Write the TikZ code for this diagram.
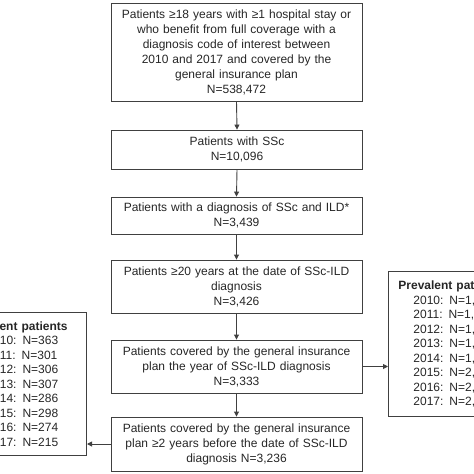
\documentclass[tikz,border=0pt]{standalone}
\usepackage{fontspec}
\setmainfont{Liberation Sans}
\usetikzlibrary{arrows.meta,positioning}
\definecolor{flowLine}{HTML}{404040}
\definecolor{flowText}{HTML}{262626}

\begin{document}
\begin{tikzpicture}[x=1pt,y=-1pt,
    font=\fontsize{12}{15}\selectfont,text=flowText,
    stepbox/.style={draw=flowLine,line width=0.9pt,minimum width=251pt,
      text width=245pt,align=center,inner sep=3pt},
    sidebox/.style={draw=flowLine,line width=0.9pt,align=left,
      font=\fontsize{12}{14.5}\selectfont,inner xsep=10pt,inner ysep=0pt},
    flow/.style={draw=flowLine,line width=0.9pt,
      -{Triangle[length=5pt,width=5pt]}}]
  \useasboundingbox (0,0) rectangle (474,474);
  \clip (0,0) rectangle (474,474);

  % main selection steps
  \node[stepbox,minimum height=98pt] (all) at (236.5,52) {
    Patients ≥18 years with ≥1 hospital stay or\\
    who benefit from full coverage with a\\
    diagnosis code of interest between\\
    2010 and 2017 and covered by the\\
    general insurance plan\\
    N=538,472};
  \node[stepbox,minimum height=39pt] (ssc) at (237,149.5) {
    Patients with SSc\\ N=10,096};
  \node[stepbox,minimum height=37pt] (ild) at (236.5,215.5) {
    Patients with a diagnosis of SSc and ILD*\\ N=3,439};
  \node[stepbox,minimum height=53pt] (age) at (236.5,286.5) {
    Patients ≥20 years at the date of SSc-ILD\\ diagnosis\\ N=3,426};
  \node[stepbox,minimum height=53pt] (plan) at (236.5,366.5) {
    Patients covered by the general insurance\\
    plan the year of SSc-ILD diagnosis\\ N=3,333};
  \node[stepbox,minimum height=54pt] (plantwo) at (236.5,444) {
    Patients covered by the general insurance\\
    plan ≥2 years before the date of SSc-ILD\\ diagnosis N=3,236};

  % side boxes
  \node[sidebox,anchor=north west,text width=130pt,minimum height=145pt]
    (prev) at (388,271) {
    \textbf{Prevalent patients}\\
    \hspace{15pt}2010: N=1,\\ \hspace{15pt}2011: N=1,\\
    \hspace{15pt}2012: N=1,\\ \hspace{15pt}2013: N=1,\\
    \hspace{15pt}2014: N=1,\\ \hspace{15pt}2015: N=2,\\
    \hspace{15pt}2016: N=2,\\ \hspace{15pt}2017: N=2,};
  \node[sidebox,anchor=north east,text width=105pt,minimum height=143pt]
    (inc) at (87,312) {
    \textbf{Incident patients}\\
    \hspace{15pt}2010: N=363\\ \hspace{15pt}2011: N=301\\
    \hspace{15pt}2012: N=306\\ \hspace{15pt}2013: N=307\\
    \hspace{15pt}2014: N=286\\ \hspace{15pt}2015: N=298\\
    \hspace{15pt}2016: N=274\\ \hspace{15pt}2017: N=215};

  % connectors
  \draw[flow] (all.south) -- (ssc.north);
  \draw[flow] (ssc.south) -- (ild.north);
  \draw[flow] (ild.south) -- (age.north);
  \draw[flow] (age.south) -- (plan.north);
  \draw[flow] (plan.south) -- (plantwo.north);
  \draw[flow] (plan.east) -- (plan.east -| prev.west);
  \draw[flow] (plantwo.west) -- (plantwo.west -| inc.east);
\end{tikzpicture}
\end{document}
